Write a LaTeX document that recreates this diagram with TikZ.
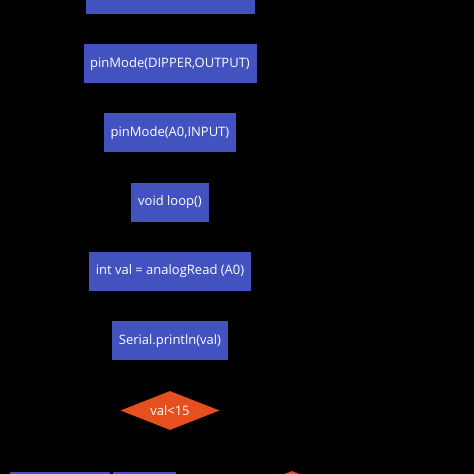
\documentclass[tikz,border=0pt]{standalone}
\usepackage{fontspec}
\setmainfont{Open Sans}
\usepackage{tikz}
\definecolor{flowblue}{RGB}{66, 82, 190}
\definecolor{floworange}{RGB}{230, 80, 30}
\usetikzlibrary{shapes.geometric,arrows}

\begin{document}
\begin{tikzpicture}[x=1pt, y=1pt,
    flowbox/.style={rectangle, fill=flowblue, text=white, minimum height=39pt, inner sep=0pt, font=\fontsize{13}{15}\selectfont},
    flowtest/.style={diamond, aspect=2.5, fill=floworange, text=white, minimum width=99pt, minimum height=39pt, inner sep=0pt, font=\fontsize{13}{15}\selectfont}]
    % Page
    \fill[black] (0,0) rectangle (474,474);
    \useasboundingbox (0,0) rectangle (474,474);

    % Setup boxes
    \node[flowbox, minimum width=169pt] (top) at (170,479) {};
    \node[flowbox, minimum width=173pt] (pinout) at (170,410) {pinMode(DIPPER,OUTPUT)};
    \node[flowbox, minimum width=132pt] (pinin) at (170,341) {pinMode(A0,INPUT)};

    % Loop boxes
    \node[flowbox, minimum width=78pt] (loop) at (170,271.5) {void loop()};
    \node[flowbox, minimum width=162pt] (read) at (170,202.5) {int val = analogRead (A0)};
    \node[flowbox, minimum width=116pt] (print) at (170,133) {Serial.println(val)};
    \node[flowtest] (check) at (170,63.5) {val<15};

    % Next row (cut off)
    \node[flowbox, minimum width=100pt] (left) at (60,-17.5) {};
    \node[flowbox, minimum width=63pt] (right) at (144.5,-17.5) {};
    \node[flowtest] (check2) at (292,-16.5) {};

    % Arrows
    \draw[->, black] (top) -- (pinout);
    \draw[->, black] (pinout) -- (pinin);
    \draw[->, black] (pinin) -- (loop);
    \draw[->, black] (loop) -- (read);
    \draw[->, black] (read) -- (print);
    \draw[->, black] (print) -- (check);
\end{tikzpicture}
\end{document}
